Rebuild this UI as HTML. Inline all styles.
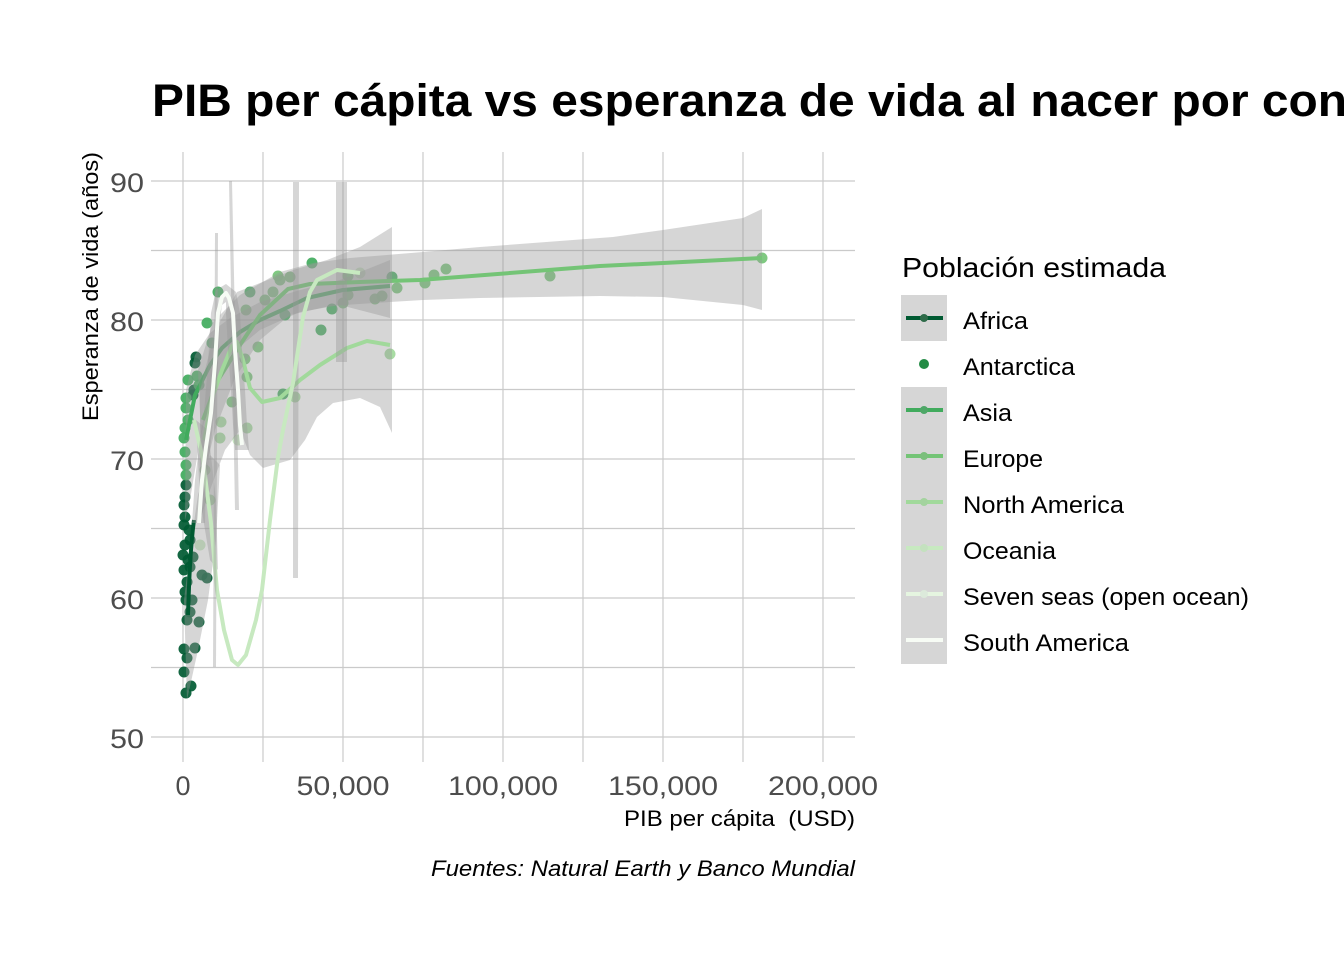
<!DOCTYPE html>
<html><head><meta charset="utf-8"><style>
html,body{margin:0;padding:0;background:#fff;}
svg{display:block;}
text{font-family:"Liberation Sans",Arial,sans-serif;}
</style></head><body>
<svg width="1344" height="960" viewBox="0 0 1344 960" xmlns="http://www.w3.org/2000/svg">
<rect width="1344" height="960" fill="#fff"/>
<!-- title -->
<text x="152" y="116" font-size="45" font-weight="bold" fill="#000" textLength="1352" lengthAdjust="spacingAndGlyphs">PIB per cápita vs esperanza de vida al nacer por continente</text>
<!-- grid -->
<g stroke="#cacaca" stroke-width="1.2" fill="none">
<line x1="151" x2="855" y1="250.5" y2="250.5"/><line x1="151" x2="855" y1="389.5" y2="389.5"/><line x1="151" x2="855" y1="528.5" y2="528.5"/><line x1="151" x2="855" y1="667.5" y2="667.5"/>
<line x1="263" x2="263" y1="152" y2="762"/><line x1="423" x2="423" y1="152" y2="762"/><line x1="583" x2="583" y1="152" y2="762"/><line x1="743" x2="743" y1="152" y2="762"/>
<line x1="151" x2="855" y1="181" y2="181"/><line x1="151" x2="855" y1="320" y2="320"/><line x1="151" x2="855" y1="459" y2="459"/><line x1="151" x2="855" y1="598" y2="598"/><line x1="151" x2="855" y1="737" y2="737"/>
<line x1="183" x2="183" y1="152" y2="762"/><line x1="343" x2="343" y1="152" y2="762"/><line x1="503" x2="503" y1="152" y2="762"/><line x1="663" x2="663" y1="152" y2="762"/><line x1="823" x2="823" y1="152" y2="762"/>
</g>
<!-- points -->
<g fill-opacity="0.92">
<g fill="#005a32">
<circle cx="186" cy="693" r="5.5"/><circle cx="191" cy="686" r="5.5"/><circle cx="184" cy="672" r="5.5"/><circle cx="187" cy="658" r="5.5"/><circle cx="184" cy="649" r="5.5"/><circle cx="195" cy="648" r="5.5"/><circle cx="199" cy="622" r="5.5"/><circle cx="190" cy="612" r="5.5"/><circle cx="186" cy="600" r="5.5"/><circle cx="185" cy="592" r="5.5"/><circle cx="187" cy="582" r="5.5"/><circle cx="184" cy="570" r="5.5"/><circle cx="190" cy="567" r="5.5"/><circle cx="183" cy="555" r="5.5"/><circle cx="193" cy="557" r="5.5"/><circle cx="185" cy="545" r="5.5"/><circle cx="190" cy="540" r="5.5"/><circle cx="184" cy="525" r="5.5"/><circle cx="185" cy="517" r="5.5"/><circle cx="184" cy="505" r="5.5"/><circle cx="185" cy="497" r="5.5"/><circle cx="189" cy="530" r="5.5"/><circle cx="188" cy="560" r="5.5"/><circle cx="186" cy="485" r="5.5"/><circle cx="196" cy="357" r="5.5"/><circle cx="194" cy="390" r="5.5"/><circle cx="193" cy="395" r="5.5"/><circle cx="195" cy="363" r="5.5"/><circle cx="207" cy="578" r="5.5"/><circle cx="202" cy="575" r="5.5"/><circle cx="192" cy="600" r="5.5"/><circle cx="187" cy="620" r="5.5"/>
</g>
<g fill="#41ab5d">
<circle cx="218" cy="292" r="5.5"/><circle cx="207" cy="323" r="5.5"/><circle cx="312" cy="263" r="5.5"/><circle cx="186" cy="408" r="5.5"/><circle cx="185" cy="428" r="5.5"/><circle cx="184" cy="438" r="5.5"/><circle cx="185" cy="452" r="5.5"/><circle cx="188" cy="420" r="5.5"/><circle cx="186" cy="465" r="5.5"/><circle cx="188" cy="380" r="5.5"/><circle cx="199" cy="385" r="5.5"/><circle cx="186" cy="398" r="5.5"/><circle cx="250" cy="292" r="5.5"/><circle cx="212" cy="343" r="5.5"/><circle cx="197" cy="376" r="5.5"/><circle cx="186" cy="475" r="5.5"/><circle cx="321" cy="330" r="5.5"/><circle cx="392" cy="277" r="5.5"/><circle cx="285" cy="315" r="5.5"/><circle cx="332" cy="309" r="5.5"/><circle cx="283" cy="394" r="5.5"/>
</g>
<g fill="#74c476">
<circle cx="278" cy="276" r="5.5"/><circle cx="280" cy="280" r="5.5"/><circle cx="290" cy="277" r="5.5"/><circle cx="273" cy="292" r="5.5"/><circle cx="265" cy="300" r="5.5"/><circle cx="246" cy="310" r="5.5"/><circle cx="343" cy="303" r="5.5"/><circle cx="348" cy="295" r="5.5"/><circle cx="348" cy="276" r="5.5"/><circle cx="375" cy="299" r="5.5"/><circle cx="382" cy="296" r="5.5"/><circle cx="397" cy="288" r="5.5"/><circle cx="425" cy="283" r="5.5"/><circle cx="434" cy="275" r="5.5"/><circle cx="446" cy="269" r="5.5"/><circle cx="550" cy="276" r="5.5"/><circle cx="762" cy="258" r="5.5"/><circle cx="245" cy="359" r="5.5"/><circle cx="258" cy="347" r="5.5"/><circle cx="247" cy="377" r="5.5"/><circle cx="232" cy="402" r="5.5"/>
</g>
<g fill="#a1d99b">
<circle cx="390" cy="354" r="5.5"/><circle cx="295" cy="397" r="5.5"/><circle cx="221" cy="422" r="5.5"/><circle cx="220" cy="438" r="5.5"/><circle cx="247" cy="428" r="5.5"/><circle cx="205" cy="470" r="5.5"/><circle cx="210" cy="500" r="5.5"/>
</g>
<g fill="#c7e9c0">
<circle cx="360" cy="273" r="5.5"/><circle cx="238" cy="440" r="5.5"/><circle cx="200" cy="545" r="5.5"/>
</g>
</g>
<!-- smooths: ribbon then line per group -->
<g>
<polygon fill="#999" fill-opacity="0.4" points="184,600 190,550 198,495 210,455 220,465 216,540 208,600 198,650 187,700"/>
<path d="M188,615 C189,585 190,550 194,520" fill="none" stroke="#005a32" stroke-width="4"/>
<polygon fill="#999" fill-opacity="0.4" points="186,390 195,355 210,333 230,318 260,302 300,290 340,280 390,260 390,318 340,305 300,312 260,330 230,355 212,390 200,440 190,500 185,520"/>
<polyline fill="none" stroke="#41ab5d" stroke-width="4" stroke-linejoin="round" points="186,440 195,395 210,365 222,348 240,332 260,320 280,311 307,298 343,290 390,286"/>
<polygon fill="#999" fill-opacity="0.4" points="198,370 213,322 240,295 280,272 313,263 350,258 423,252 480,247 613,237 663,230 743,218 762,209 762,310 743,305 663,297 600,296 480,298 423,300 390,302 330,306 290,315 260,340 235,378 215,430 203,480"/>
<polyline fill="none" stroke="#74c476" stroke-width="4" stroke-linejoin="round" points="203,420 218,380 240,345 260,315 288,289 310,284 360,282 420,280 600,266 663,263 762,258"/>
<polygon fill="#999" fill-opacity="0.4" points="200,390 215,330 237,292 260,283 293,270 327,260 360,247 392,227 392,433 380,407 360,398 333,403 317,417 305,440 290,460 263,468 250,455 240,430 225,450 210,490 200,520"/>
<polyline fill="none" stroke="#a1d99b" stroke-width="4" stroke-linejoin="round" points="204,440 212,398 222,370 232,346 237,342 243,360 250,388 262,402 280,398 300,380 320,365 347,348 367,341 390,345"/>
<polygon fill="#999" fill-opacity="0.4" points="293,182 299,182 298,578 293,578"/>
<polygon fill="#999" fill-opacity="0.4" points="336,182 347,182 347,362 336,362"/>
<polygon fill="#999" fill-opacity="0.4" points="196,420 208,430 216,500 218,570 210,560 200,500"/>
<polyline fill="none" stroke="#c7e9c0" stroke-width="4" stroke-linejoin="round" points="194,420 203,460 211,523 217,590 224,630 232,660 238,665 246,655 256,620 262,590 270,520 278,457 283,430 293,383 303,317 310,292 317,280 337,270 360,273"/>
<polygon fill="#999" fill-opacity="0.4" points="229,181 232,181 239,510 235,510"/>
<polygon fill="#999" fill-opacity="0.4" points="215,233 218,233 216,667 213,667"/>
<polygon fill="#999" fill-opacity="0.4" points="192,523 195,480 199,447 204,413 208,363 211,313 216,290 226,284 236,292 240,313 242,350 245,390 247,425 249,450 235,450 233,425 231,390 228,350 226,313 226,302 222,305 220,320 218,365 214,415 210,450 206,482 205,523"/>
<polyline fill="none" stroke="#f7fcf5" stroke-width="4" stroke-linejoin="round" points="199,523 202,480 206,447 211,413 215,363 218,313 222,297 226,293 229,298 233,313 235,350 238,390 240,425 242,445"/>
</g>
<!-- axis ticks labels -->
<g font-size="27" fill="#4d4d4d" text-anchor="end">
<text x="144" y="192" textLength="34" lengthAdjust="spacingAndGlyphs">90</text>
<text x="144" y="331" textLength="34" lengthAdjust="spacingAndGlyphs">80</text>
<text x="144" y="470" textLength="34" lengthAdjust="spacingAndGlyphs">70</text>
<text x="144" y="609" textLength="34" lengthAdjust="spacingAndGlyphs">60</text>
<text x="144" y="748" textLength="34" lengthAdjust="spacingAndGlyphs">50</text>
</g>
<g font-size="27" fill="#4d4d4d" text-anchor="middle">
<text x="183" y="795">0</text>
<text x="343" y="795" textLength="93" lengthAdjust="spacingAndGlyphs">50,000</text>
<text x="503" y="795" textLength="110" lengthAdjust="spacingAndGlyphs">100,000</text>
<text x="663" y="795" textLength="110" lengthAdjust="spacingAndGlyphs">150,000</text>
<text x="823" y="795" textLength="110" lengthAdjust="spacingAndGlyphs">200,000</text>
</g>
<text x="855" y="826" font-size="22" fill="#000" text-anchor="end" textLength="231" lengthAdjust="spacingAndGlyphs">PIB per cápita &#160;(USD)</text>
<text transform="translate(98,286.5) rotate(-90)" x="0" y="0" font-size="22" fill="#000" text-anchor="middle" textLength="269" lengthAdjust="spacingAndGlyphs">Esperanza de vida (años)</text>
<text x="855" y="876" font-size="22" font-style="italic" fill="#000" text-anchor="end" textLength="424" lengthAdjust="spacingAndGlyphs">Fuentes: Natural Earth y Banco Mundial</text>
<!-- legend -->
<text x="902" y="277" font-size="28" fill="#000" textLength="264" lengthAdjust="spacingAndGlyphs">Población estimada</text>
<rect x="901" y="295" width="46" height="46" fill="#d6d6d6"/>
<rect x="901" y="387" width="46" height="277" fill="#d6d6d6"/>
<g stroke-width="4">
<line x1="906" x2="943" y1="318" y2="318" stroke="#005a32"/>
<line x1="906" x2="943" y1="410" y2="410" stroke="#41ab5d"/>
<line x1="906" x2="943" y1="456" y2="456" stroke="#74c476"/>
<line x1="906" x2="943" y1="502" y2="502" stroke="#a1d99b"/>
<line x1="906" x2="943" y1="548" y2="548" stroke="#c7e9c0"/>
<line x1="906" x2="943" y1="594" y2="594" stroke="#e5f5e0"/>
<line x1="906" x2="943" y1="640" y2="640" stroke="#f7fcf5"/>
</g>
<g>
<circle cx="924" cy="318" r="4" fill="#2e6b49"/>
<circle cx="924" cy="364" r="5" fill="#238b45"/>
<circle cx="924" cy="410" r="4" fill="#4ea767"/>
<circle cx="924" cy="456" r="4" fill="#7bbf7c"/>
<circle cx="924" cy="502" r="4" fill="#a3d39e"/>
<circle cx="924" cy="548" r="4" fill="#c4e1bf"/>
<circle cx="924" cy="594" r="4" fill="#dceadb"/>
</g>
<g font-size="24" fill="#000">
<text x="963" y="329" textLength="65" lengthAdjust="spacingAndGlyphs">Africa</text>
<text x="963" y="375" textLength="112" lengthAdjust="spacingAndGlyphs">Antarctica</text>
<text x="963" y="421" textLength="49" lengthAdjust="spacingAndGlyphs">Asia</text>
<text x="963" y="467" textLength="80" lengthAdjust="spacingAndGlyphs">Europe</text>
<text x="963" y="513" textLength="161" lengthAdjust="spacingAndGlyphs">North America</text>
<text x="963" y="559" textLength="93" lengthAdjust="spacingAndGlyphs">Oceania</text>
<text x="963" y="605" textLength="286" lengthAdjust="spacingAndGlyphs">Seven seas (open ocean)</text>
<text x="963" y="651" textLength="166" lengthAdjust="spacingAndGlyphs">South America</text>
</g>
</svg>
</body></html>
